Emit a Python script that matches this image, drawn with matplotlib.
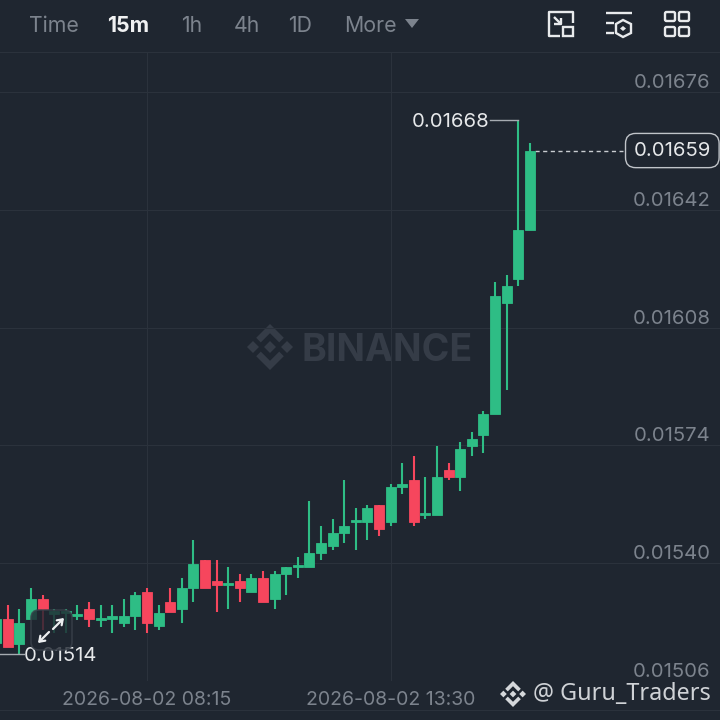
import numpy as np
import matplotlib
matplotlib.use("Agg")
import matplotlib.pyplot as plt
from matplotlib.patches import FancyBboxPatch, Polygon, Rectangle

# candle values, price * 1e6, 15m bars
opens = [15170,15238,15167,15238,15297,15253,15256,15248,15268,15236,15239,15228,15248,
         15318,15219,15288,15268,15329,15408,15348,15338,15349,15318,15358,15298,15368,15388,
         15388,15429,15449,15488,15519,15519,15569,15519,15619,15639,15538,15539,15669,15649,
         15739,15769,15830,16150,16220,16362]
highs = [15239,15279,15268,15329,15308,15268,15268,15279,15288,15279,15279,15298,15318,
         15329,15279,15329,15358,15467,15408,15409,15389,15368,15368,15378,15378,15388,15419,
         15580,15508,15529,15639,15559,15568,15569,15629,15689,15709,15649,15739,15689,15749,
         15778,15839,16211,16232,16680,16612]
lows = [15170,15158,15138,15238,15207,15199,15199,15236,15217,15216,15199,15217,15207,
        15199,15207,15258,15228,15288,15329,15259,15268,15288,15318,15288,15268,15308,15358,
        15388,15408,15438,15458,15438,15468,15479,15508,15599,15508,15529,15539,15639,15609,
        15709,15719,15830,15900,16201,16362]
closes = [15239,15158,15228,15297,15268,15262,15262,15253,15238,15242,15248,15248,15308,
          15228,15257,15258,15329,15398,15329,15338,15344,15329,15358,15288,15368,15388,15394,
          15429,15458,15488,15508,15525,15559,15499,15619,15629,15519,15544,15649,15649,15729,
          15759,15830,16171,16200,16361,16591]
first_bar = -13  # bar 0 is 08:15

price_ticks = [0.01506, 0.01540, 0.01574, 0.01608, 0.01642, 0.01676]
time_ticks = [0, 21]
time_labels = ["2026-08-02 08:15", "2026-08-02 13:30"]
intervals = ["Time", "15m", "1h", "4h", "1D", "More"]

BG = "#1f2630"
GRID = "#2b323c"
GREY = "#7c838d"
GREEN = "#2ebd85"
RED = "#f6465d"
LIGHT = "#e6e8ea"
BAR_PX = 11.6
plt.rcParams["font.family"] = ["Inter", "DejaVu Sans"]

o = np.array(opens) / 1e6
h = np.array(highs) / 1e6
l = np.array(lows) / 1e6
c = np.array(closes) / 1e6
x = np.arange(len(o)) + first_bar
up = c >= o
col = np.where(up, GREEN, RED)

fig = plt.figure(figsize=(7.2, 7.2), dpi=100, facecolor=BG)


def px_axes(z):
    a = fig.add_axes([0, 0, 1, 1], zorder=z)
    a.set_xlim(0, 720)
    a.set_ylim(720, 0)
    a.axis("off")
    a.patch.set_alpha(0)
    return a


def logo(a, cx, cy, s, color):
    # binance mark, s is half the height
    d = s * 0.26
    for px, py in [(0, 0), (-s * 0.74, 0), (s * 0.74, 0)]:
        a.add_patch(Polygon([(cx + px - d, cy + py), (cx + px, cy + py - d),
                             (cx + px + d, cy + py), (cx + px, cy + py + d)],
                            fc=color, ec="none"))
    for sign in (-1, 1):
        a.add_patch(Polygon([(cx, cy + sign * s), (cx + s * 0.6, cy + sign * s * 0.4),
                             (cx + s * 0.4, cy + sign * s * 0.2), (cx, cy + sign * s * 0.6),
                             (cx - s * 0.4, cy + sign * s * 0.2), (cx - s * 0.6, cy + sign * s * 0.4)],
                            fc=color, ec="none"))


# watermark sits under everything
back = px_axes(0)
logo(back, 270, 347, 23, "#353c47")
back.text(301, 347, "BINANCE", color="#353c47", fontsize=27, fontweight="bold",
          va="center_baseline", ha="left")

# chart
ax = fig.add_axes([0, 39 / 720, 1, 629 / 720], zorder=1)
ax.patch.set_alpha(0)
ax.set_xlim(-147 / BAR_PX, 573 / BAR_PX)
ax.set_ylim(0.01506, 0.0168754)
for s in ax.spines.values():
    s.set_visible(False)
ax.grid(True, color=GRID, lw=0.8)
ax.set_axisbelow(True)
ax.yaxis.tick_right()
ax.set_yticks(price_ticks)
ax.set_yticklabels([f"{p:.5f}" for p in price_ticks])
ax.tick_params(axis="y", length=0, pad=-7, labelcolor=GREY, labelsize=14.6)
ax.set_xticks(time_ticks)
ax.set_xticklabels(time_labels)
ax.tick_params(axis="x", length=0, pad=7.5, labelcolor=GREY, labelsize=14)
for t in ax.get_yticklabels():
    t.set_ha("right")
    t.set_va("bottom")

ax.vlines(x, l, h, colors=col, lw=1.5, zorder=3)
ax.bar(x, np.abs(c - o), bottom=np.minimum(o, c), width=0.85, color=col, edgecolor=col, lw=0.6, zorder=4)

# high and low markers
hi = int(np.argmax(h))
lo = int(np.argmin(l))
ax.plot([x[hi] - 2.4, x[hi]], [h[hi], h[hi]], color="#a6abb1", lw=1, zorder=3)
ax.text(x[hi] - 2.45, h[hi], f"{h[hi]:.5f}", color=LIGHT, fontsize=14.6, ha="right", va="center_baseline")
ax.plot([ax.get_xlim()[0], x[lo] + 0.4], [l[lo], l[lo]], color="#a6abb1", lw=1, zorder=3)
ax.text(x[lo] + 0.4, l[lo], f"{l[lo]:.5f}", color=LIGHT, fontsize=14.6, ha="left", va="center_baseline", zorder=2)

# last price
ax.plot([x[-1] + 0.45, 41.0], [c[-1], c[-1]], color="#c9cdd1", lw=1, ls=(0, (3, 2.5)), zorder=3)
ax.text(0.9875, c[-1], f"{c[-1]:.5f}", transform=ax.get_yaxis_transform(), color=LIGHT, fontsize=14.6,
        ha="right", va="center", zorder=5,
        bbox=dict(boxstyle="round,pad=0.4,rounding_size=0.5", fc=BG, ec="#c0c4c9", lw=1))

# everything that is app chrome
top = px_axes(2)
top.plot([0, 720], [52, 52], color=GRID, lw=0.8)
top.plot([0, 720], [710, 710], color=GRID, lw=0.8)
top.add_patch(Rectangle((0, 0), 720, 51.5, fc=BG, ec="none", zorder=-1))

xs = [29, 107, 181, 234, 288, 344]
for name, tx in zip(intervals, xs):
    sel = name == "15m"
    top.text(tx, 24, name, color="#f0f1f2" if sel else GREY, fontsize=15.3,
             fontweight="bold" if sel else "normal", ha="left", va="center_baseline")
top.add_patch(Polygon([(405, 19), (419, 19), (412, 28)], fc=GREY, ec="none"))

# toolbar icons
ic = dict(color="#e8eaec", lw=1.7, solid_capstyle="butt")
top.plot([560, 549, 549, 573, 573], [36, 36, 12, 12, 23], **ic)
top.plot([554, 561], [17, 24], **ic)
top.plot([554, 561, 561], [24, 24, 18], **ic)
top.add_patch(Rectangle((563, 27), 10, 9, fc="none", ec="#e8eaec", lw=1.7))
top.plot([606, 632], [13, 13], **ic)
top.plot([606, 614], [23, 23], **ic)
top.plot([606, 614], [33, 33], **ic)
top.add_patch(Polygon([(623, 20), (631, 24), (631, 33), (623, 37), (616, 33), (616, 24)],
                      fc="none", ec="#e8eaec", lw=1.7))
top.add_patch(Polygon([(623, 26), (626, 28.5), (623, 31), (620, 28.5)], fc="#e8eaec", ec="none"))
for bx in (665, 679):
    for by in (12, 27):
        top.add_patch(FancyBboxPatch((bx, by), 10, 9, boxstyle="round,pad=0,rounding_size=1.5",
                                     fc="none", ec="#e8eaec", lw=1.7))

# expand button
top.add_patch(FancyBboxPatch((31, 610), 41, 40, boxstyle="round,pad=0,rounding_size=8",
                             fc=BG, ec="#3a414b", lw=1.2, alpha=0.8))
top.annotate("", xy=(64, 618), xytext=(53, 629), arrowprops=dict(arrowstyle="->,head_length=0.35,head_width=0.25", color="#eceef0", lw=1.6, shrinkA=0, shrinkB=0))
top.annotate("", xy=(38, 643), xytext=(49, 632), arrowprops=dict(arrowstyle="->,head_length=0.35,head_width=0.25", color="#eceef0", lw=1.6, shrinkA=0, shrinkB=0))

# feed footer
logo(top, 513, 694, 13, "#d5d8db")
top.text(533, 694, "@ Guru_Traders", color="#cfd2d6", fontsize=16.8, ha="left", va="center",
         family=["Noto Sans", "DejaVu Sans"])

fig.savefig("out.png", dpi=100, facecolor=BG)
